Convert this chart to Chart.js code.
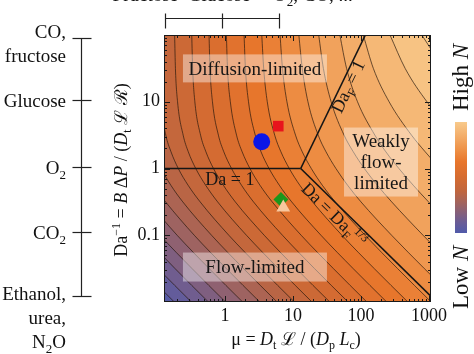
<!DOCTYPE html>
<html>
<head>
<meta charset="utf-8">
<script src="https://cdn.jsdelivr.net/npm/chart.js@4.4.0/dist/chart.umd.min.js"></script>
<style>
  html, body { margin: 0; padding: 0; background: #fff; }
  #wrap { width: 474px; height: 354px; }
</style>
</head>
<body>
<div id="wrap"><canvas id="chart" width="474" height="354"></canvas></div>
<script>
// axis ranges and ticks
const muRange = [0.127, 1070];
const daInvRange = [0.01, 100];
const muTicks = [1, 10, 100, 1000];
const daInvTicks = [0.1, 1, 10];

// N on each contour (quarter decades), lowest first
const levels = [0.00178, 0.00316, 0.00562, 0.01, 0.0178, 0.0316, 0.0562, 0.1, 0.178, 0.316,
  0.562, 1, 1.78, 3.16, 5.62, 10, 17.8, 31.6, 56.2, 100, 178];

// contour lines, [mu, Da^-1], from top/left to bottom/right
const contours = [
  [[0.058, 0.0316], [0.180, 0.01]],
  [[0.0348, 0.1], [0.104, 0.0316], [0.321, 0.01]],
  [[0.0619, 0.1], [0.185, 0.0316], [0.571, 0.01]],
  [[0.0416, 0.316], [0.111, 0.1], [0.329, 0.0316], [1.02, 0.01]],
  [[0.074, 0.316], [0.198, 0.1], [0.587, 0.0316], [1.82, 0.01]],
  [[0.0878, 0.562], [0.134, 0.316], [0.354, 0.1], [1.05, 0.0316], [3.25, 0.01]],
  [[0.0878, 1.78], [0.115, 1], [0.160, 0.562], [0.240, 0.316], [0.635, 0.1], [1.88, 0.0316], [5.84, 0.01]],
  [[0.104, 31.6], [0.112, 10], [0.135, 3.16], [0.161, 1.78], [0.206, 1], [0.287, 0.562], [0.432, 0.316], [1.14, 0.1], [3.39, 0.0316], [10.5, 0.01]],
  [[0.182, 100], [0.187, 31.6], [0.201, 10], [0.243, 3.16], [0.289, 1.78], [0.372, 1], [0.520, 0.562], [0.781, 0.316], [2.07, 0.1], [6.15, 0.0316], [19.05, 0.01]],
  [[0.325, 100], [0.335, 31.6], [0.361, 10], [0.438, 3.16], [0.525, 1.78], [0.678, 1], [0.947, 0.562], [1.42, 0.316], [3.78, 0.1], [11.2, 0.0316], [34.8, 0.01]],
  [[0.583, 100], [0.603, 31.6], [0.655, 10], [0.801, 3.16], [0.962, 1.78], [1.25, 1], [1.75, 0.562], [2.63, 0.316], [7.01, 0.1], [20.8, 0.0316], [64.6, 0.01]],
  [[1.05, 100], [1.09, 31.6], [1.20, 10], [1.48, 3.16], [1.79, 1.78], [2.33, 1], [3.27, 0.562], [4.95, 0.316], [13.2, 0.1], [39.4, 0.0316], [122, 0.01]],
  [[1.91, 100], [2.00, 31.6], [2.22, 10], [2.79, 3.16], [3.39, 1.78], [4.45, 1], [6.30, 0.562], [9.58, 0.316], [25.8, 0.1], [76.9, 0.0316], [239, 0.01]],
  [[3.48, 100], [3.71, 31.6], [4.19, 10], [5.39, 3.16], [6.65, 1.78], [8.83, 1], [12.6, 0.562], [19.4, 0.316], [52.5, 0.1], [157, 0.0316], [489, 0.01]],
  [[6.46, 100], [7.01, 31.6], [8.15, 10], [10.9, 3.16], [13.7, 1.78], [18.6, 1], [27.0, 0.562], [41.8, 0.316], [115, 0.1], [346, 0.0316], [1078, 0.01]],
  [[12.2, 100], [13.7, 31.6], [16.6, 10], [23.5, 3.16], [30.6, 1.78], [42.8, 1], [63.5, 0.562], [100, 0.316], [282, 0.1], [856, 0.0316], [2670, 0.01]],
  [[23.9, 100], [28.0, 31.6], [36.4, 10], [56.4, 3.16], [77.0, 1.78], [112, 1], [174, 0.562], [283, 0.316], [818, 0.1], [2510, 0.0316]],
  [[48.9, 100], [61.4, 31.6], [88.9, 10], [160, 3.16], [232, 1.78], [361, 1], [586, 0.562], [985, 0.316], [3000, 0.1]],
  [[108, 100], [152, 31.6], [259, 10], [553, 3.16], [879, 1.78], [1450, 1]],
  [[267, 100], [446, 31.6], [933, 10], [2430, 3.16]],
  [[785, 100], [1630, 31.6]]
];

// regime boundaries
const daOneLine = [[0.127, 1], [13, 1]];
const daFOneLine = [[13, 1], [116, 100]];
const daCubeLine = [[13, 1], [1300, 0.01]];

// species markers
const circlePoint = [{ x: 3.47, y: 2.51 }];
const squarePoint = [{ x: 6.08, y: 4.31 }];
const diamondPoint = [{ x: 6.66, y: 0.343 }];
const trianglePoint = [{ x: 7.2, y: 0.26 }];

// molecule scales beside the plot
const leftMolecules = [['CO,', 'fructose'], ['Glucose'], ['O_{2}'], ['CO_{2}'], ['Ethanol,', 'urea,', 'N_{2}O']];
const leftMoleculeValues = [90, 10.7, 1.07, 0.11, 0.0123];
const topMolecules = ['Fructose', 'Glucose', 'O_{2}, CO, ...'];
const topMoleculeValues = [0.131, 0.903, 6.22];

const SERIF = '"Liberation Serif", "Times New Roman", "DejaVu Serif", serif';

const colorStops = [
  [-3.0, [80, 90, 170]],
  [-2.5, [105, 92, 150]],
  [-2.0, [135, 96, 120]],
  [-1.5, [165, 100, 90]],
  [-1.0, [192, 102, 62]],
  [-0.3, [214, 108, 48]],
  [0.4, [232, 118, 44]],
  [1.0, [238, 146, 72]],
  [1.6, [243, 172, 104]],
  [2.3, [248, 202, 140]]
];

function cmapColor(logN) {
  const s = colorStops;
  if (logN <= s[0][0]) return `rgb(${s[0][1].join(',')})`;
  for (let i = 1; i < s.length; i++) {
    if (logN <= s[i][0]) {
      const t = (logN - s[i - 1][0]) / (s[i][0] - s[i - 1][0]);
      const c = s[i - 1][1].map((v, j) => Math.round(v + t * (s[i][1][j] - v)));
      return `rgb(${c.join(',')})`;
    }
  }
  return `rgb(${s[s.length - 1][1].join(',')})`;
}

// tiny rich text: *italic*, _{sub}, ^{sup}
function parseRich(s) {
  const segs = [];
  let buf = '', italic = false, i = 0;
  const push = (t, mode) => { if (t) segs.push({ t, italic, mode }); };
  while (i < s.length) {
    const c = s[i];
    if (c === '*') { push(buf, 0); buf = ''; italic = !italic; i++; }
    else if ((c === '_' || c === '^') && s[i + 1] === '{') {
      push(buf, 0); buf = '';
      const end = s.indexOf('}', i);
      push(s.slice(i + 2, end), c === '_' ? -1 : 1);
      i = end + 1;
    } else { buf += c; i++; }
  }
  push(buf, 0);
  return segs;
}

function drawRich(ctx, s, x, y, size, align, angle) {
  const segs = parseRich(s);
  const fontFor = seg => `${seg.italic ? 'italic ' : ''}${seg.mode ? Math.round(size * 0.68) : size}px ${SERIF}`;
  let w = 0;
  segs.forEach(seg => { ctx.font = fontFor(seg); seg.w = ctx.measureText(seg.t).width; w += seg.w; });
  ctx.save();
  ctx.translate(x, y);
  ctx.rotate(angle || 0);
  ctx.textAlign = 'left';
  ctx.textBaseline = 'alphabetic';
  let cx = align === 'center' ? -w / 2 : align === 'right' ? -w : 0;
  const base = size * 0.33;
  segs.forEach(seg => {
    ctx.font = fontFor(seg);
    const dy = seg.mode === -1 ? size * 0.25 : seg.mode === 1 ? -size * 0.4 : 0;
    ctx.fillText(seg.t, cx, base + dy);
    cx += seg.w;
  });
  ctx.restore();
}

function seg(ctx, x0, y0, x1, y1) {
  ctx.beginPath(); ctx.moveTo(x0, y0); ctx.lineTo(x1, y1); ctx.stroke();
}

const toXY = pts => pts.map(([x, y]) => ({ x, y }));

const contourSets = contours.map((pts, i) => {
  const data = toXY(pts);
  const last = data[data.length - 1];
  if (last.y <= daInvRange[0] * 1.01) {
    data.push({ x: last.x * 3.16, y: last.y / 3.16 }, { x: 1e5, y: last.y / 3.16 });
  }
  return {
    data,
    borderColor: 'rgba(35,22,12,0.85)',
    borderWidth: 0.8,
    backgroundColor: cmapColor(Math.log10(levels[i]) + 0.125),
    fill: 'end',
    pointRadius: 0,
    cubicInterpolationMode: 'monotone',
    order: 100 - i
  };
});

const boundarySets = [daOneLine, daFOneLine, daCubeLine].map(pts => ({
  data: toXY(pts),
  borderColor: '#151515',
  borderWidth: 1.6,
  fill: false,
  pointRadius: 0,
  order: -1
}));

const marker = (data, style, r, color, order) => ({
  data, showLine: false, pointStyle: style, pointRadius: r,
  pointBackgroundColor: color, pointBorderColor: color, pointBorderWidth: 0, order
});

const markerSets = [
  marker(circlePoint, 'circle', 8.5, '#0b16e6', -2),
  marker(squarePoint, 'rect', 7.5, '#e8141c', -3),
  marker(diamondPoint, 'rectRot', 7.5, '#1c961c', -4),
  marker(trianglePoint, 'triangle', 8, '#f8c79e', -5)
];

const regionLabels = [
  { text: ['Diffusion-limited'], at: [2.76, 31.6], box: [144, 28] },
  { text: ['Flow-limited'], at: [2.76, 0.0334], box: [144, 29] },
  { text: ['Weakly', 'flow-', 'limited'], at: [197, 1.25], box: [74, 69] }
];

const lineLabels = [
  { text: 'Da = 1', at: [1.18, 0.684], line: null },
  { text: 'Da_{F} = 1', at: [64.4, 16.9], line: daFOneLine },
  { text: 'Da = Da_{F}^{1/3}', at: [40.1, 0.204], line: daCubeLine }
];

const backdrop = {
  id: 'backdrop',
  beforeDatasetsDraw(chart) {
    const { ctx, chartArea: a } = chart;
    ctx.save();
    ctx.fillStyle = cmapColor(Math.log10(levels[0]) - 0.125);
    ctx.fillRect(a.left, a.top, a.right - a.left, a.bottom - a.top);
    ctx.restore();
  }
};

const overlay = {
  id: 'overlay',
  afterDatasetsDraw(chart) {
    const { ctx, chartArea: a, scales: { x, y } } = chart;
    ctx.save();
    regionLabels.forEach(l => {
      const cx = x.getPixelForValue(l.at[0]), cy = y.getPixelForValue(l.at[1]);
      ctx.fillStyle = 'rgba(255,255,255,0.42)';
      ctx.fillRect(cx - l.box[0] / 2, cy - l.box[1] / 2, l.box[0], l.box[1]);
      ctx.fillStyle = '#161616';
      const n = l.text.length;
      l.text.forEach((t, j) => drawRich(ctx, t, cx, cy + (j - (n - 1) / 2) * 21, 19, 'center'));
    });
    lineLabels.forEach(l => {
      let ang = 0;
      if (l.line) {
        const p0 = l.line[0], p1 = l.line[1];
        ang = Math.atan2(y.getPixelForValue(p1[1]) - y.getPixelForValue(p0[1]),
          x.getPixelForValue(p1[0]) - x.getPixelForValue(p0[0]));
      }
      ctx.fillStyle = '#161616';
      drawRich(ctx, l.text, x.getPixelForValue(l.at[0]), y.getPixelForValue(l.at[1]), 18, 'center', ang);
    });
    // frame with inside ticks
    ctx.strokeStyle = '#1a1a1a';
    ctx.lineWidth = 1;
    ctx.strokeRect(a.left + 0.5, a.top + 0.5, a.right - a.left - 1, a.bottom - a.top - 1);
    for (let e = -2; e <= 3; e++) {
      for (let m = 1; m <= 9; m++) {
        const v = m * Math.pow(10, e);
        const len = m === 1 ? 6 : 3;
        if (v > muRange[0] && v < muRange[1]) {
          const px = Math.round(x.getPixelForValue(v)) + 0.5;
          seg(ctx, px, a.bottom, px, a.bottom - len);
          seg(ctx, px, a.top, px, a.top + len);
        }
        if (v > daInvRange[0] && v < daInvRange[1]) {
          const py = Math.round(y.getPixelForValue(v)) + 0.5;
          seg(ctx, a.left, py, a.left + len, py);
          seg(ctx, a.right, py, a.right - len, py);
        }
      }
    }
    ctx.restore();
  }
};

const leftMoleculeOffsets = [-7, 0, 0, 0, -3];

const decor = {
  id: 'decor',
  afterDraw(chart) {
    const { ctx, scales: { x, y } } = chart;
    ctx.save();
    ctx.strokeStyle = '#222';
    ctx.fillStyle = '#111';
    ctx.lineWidth = 1.2;
    // molecule scale on the left
    const ax = 81.5;
    const pys = leftMoleculeValues.map(v => Math.round(y.getPixelForValue(v)) + 0.5);
    seg(ctx, ax, pys[0], ax, pys[pys.length - 1]);
    pys.forEach((py, i) => {
      seg(ctx, ax - 9, py, ax + 10, py);
      leftMolecules[i].forEach((t, j) => drawRich(ctx, t, 66, py + leftMoleculeOffsets[i] + j * 24, 19, 'right'));
    });
    // molecule scale on top, cut by the page edge
    const ty = 18.5;
    const pxs = topMoleculeValues.map(v => Math.round(x.getPixelForValue(v)) + 0.5);
    seg(ctx, pxs[0], ty, pxs[pxs.length - 1], ty);
    pxs.forEach(px => seg(ctx, px, ty - 5, px, ty + 10));
    drawRich(ctx, topMolecules[0], 178, -5, 19, 'right');
    drawRich(ctx, topMolecules[1], 219, -5, 19, 'center');
    drawRich(ctx, topMolecules[2], 273, -5, 19, 'left');
    // colour bar
    const cb = { x: 455, y: 122, w: 12, h: 111 };
    const g = ctx.createLinearGradient(0, cb.y + cb.h, 0, cb.y);
    const lo = colorStops[0][0], hi = colorStops[colorStops.length - 1][0];
    colorStops.forEach(([v, c]) => g.addColorStop((v - lo) / (hi - lo), `rgb(${c.join(',')})`));
    ctx.fillStyle = g;
    ctx.fillRect(cb.x, cb.y, cb.w, cb.h);
    ctx.fillStyle = '#111';
    drawRich(ctx, 'High *N*', 460, 111, 23, 'left', -Math.PI / 2);
    drawRich(ctx, 'Low *N*', 460, 309, 23, 'left', -Math.PI / 2);
    // axis titles
    drawRich(ctx, 'μ = *D*_{t} ℒ / (*D*_{p} *L*_{c})', 296, 339, 18, 'center');
    drawRich(ctx, 'Da^{−1} = *B* Δ*P* / (*D*_{t} ℒ ℛ)', 121, 170, 18, 'center', -Math.PI / 2);
    ctx.restore();
  }
};

const tickFont = { family: SERIF, size: 18 };

new Chart(document.getElementById('chart'), {
  type: 'line',
  data: { datasets: [...contourSets, ...boundarySets, ...markerSets] },
  options: {
    responsive: false,
    animation: false,
    devicePixelRatio: 1,
    layout: { padding: { left: 0, right: 43, top: 35, bottom: 0 } },
    plugins: { legend: { display: false }, tooltip: { enabled: false } },
    scales: {
      x: {
        type: 'logarithmic', min: muRange[0], max: muRange[1], bounds: 'data',
        grid: { display: false, drawTicks: false }, border: { display: false },
        ticks: { font: tickFont, color: '#111', padding: 3, maxRotation: 0, autoSkip: false, callback: v => String(v) },
        afterBuildTicks: s => { s.ticks = muTicks.map(v => ({ value: v })); },
        afterFit: s => { s.height = 52; }
      },
      y: {
        type: 'logarithmic', min: daInvRange[0], max: daInvRange[1], bounds: 'data',
        grid: { display: false, drawTicks: false }, border: { display: false },
        ticks: { font: tickFont, color: '#111', padding: 4, autoSkip: false, callback: v => String(v) },
        afterBuildTicks: s => { s.ticks = daInvTicks.map(v => ({ value: v })); },
        afterFit: s => { s.width = 164; }
      }
    }
  },
  plugins: [backdrop, overlay, decor]
});
</script>
</body>
</html>
